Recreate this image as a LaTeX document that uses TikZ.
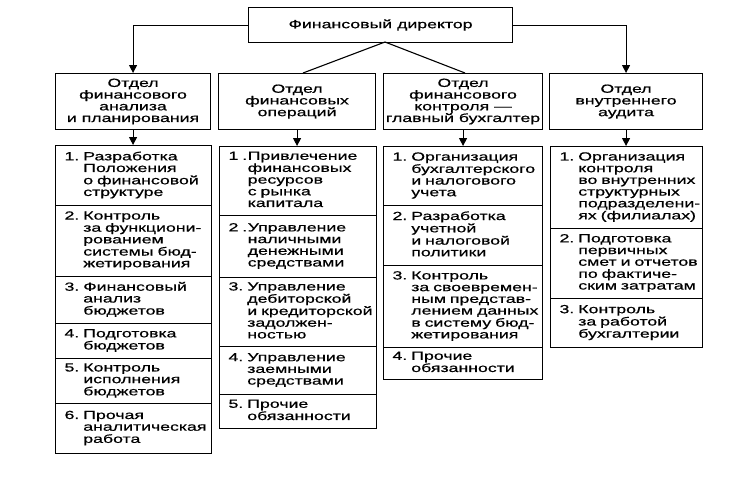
\documentclass[tikz,border=0pt]{standalone}
\usepackage{fontspec}
\setmainfont[FakeStretch=1.5,FakeBold=0.6]{Liberation Sans}
\usetikzlibrary{arrows.meta}
\newcommand{\itm}[2]{\begin{tabular}[t]{@{}l@{\hspace{4pt}}l@{}}#1&\begin{tabular}[t]{@{}l@{}}#2\end{tabular}\end{tabular}}
\newcommand{\itmb}[2]{\begin{tabular}[t]{@{}l@{\hspace{0.5pt}}l@{}}#1&\begin{tabular}[t]{@{}l@{}}#2\end{tabular}\end{tabular}}
\tikzset{
  box/.style={draw, line width=1.1pt, anchor=north west, align=center, inner sep=2pt,
    font=\fontsize{11.8}{11.7}\selectfont},
  cell/.style={draw, line width=1.1pt, anchor=north west, align=left, inner xsep=9pt, inner ysep=2pt,
    font=\fontsize{11.8}{11.7}\selectfont},
  conn/.style={line width=1.1pt},
  arr/.style={line width=1.1pt, -{Triangle[length=8pt,width=8pt]}}
}
\begin{document}
\begin{tikzpicture}[x=1pt,y=-1pt]
\useasboundingbox (0,0) rectangle (749,493);
\fill[white] (0,0) rectangle (749,493);
% top
\node[box, minimum width=264pt, minimum height=35pt] (top) at (248,7) {Финансовый директор};
\coordinate (fork) at (385,42);
% departments
\node[box, minimum width=155pt, minimum height=56pt] (d1) at (55,73) {Отдел\\финансового\\анализа\\и планирования};
\node[box, minimum width=157pt, minimum height=56pt] (d2) at (218,73) {Отдел\\финансовых\\операций};
\node[box, minimum width=159pt, minimum height=56pt] (d3) at (383,73) {Отдел\\финансового\\контроля ---\\главный бухгалтер};
\node[box, minimum width=153pt, minimum height=56pt] (d4) at (549,73) {Отдел\\внутреннего\\аудита};
\coordinate (t2) at (303,73);
\coordinate (t3) at (465,73);
% column 1
\tikzset{c1/.style={cell, text width=138pt}}
\node[c1, minimum height=60pt] (a1) at (55,145) {\itm{1.}{Разработка\\Положения\\о финансовой\\структуре}};
\node[c1, minimum height=71pt] (a2) at (55,205) {\itm{2.}{Контроль\\за функциони-\\рованием\\системы бюд-\\жетирования}};
\node[c1, minimum height=47pt] (a3) at (55,276) {\itm{3.}{Финансовый\\анализ\\бюджетов}};
\node[c1, minimum height=35pt] (a4) at (55,323) {\itm{4.}{Подготовка\\бюджетов}};
\node[c1, minimum height=45pt] (a5) at (55,358) {\itm{5.}{Контроль\\исполнения\\бюджетов}};
\node[c1, minimum height=50pt] (a6) at (55,403) {\itm{6.}{Прочая\\аналитическая\\работа}};
% column 2
\tikzset{c2/.style={cell, text width=139pt}}
\node[c2, minimum height=69pt] (b1) at (219,146) {\itmb{1 .}{Привлечение\\финансовых\\ресурсов\\с рынка\\капитала}};
\node[c2, minimum height=62pt] (b2) at (219,215) {\itmb{2 .}{Управление\\наличными\\денежными\\средствами}};
\node[c2, minimum height=69pt] (b3) at (219,277) {\itm{3.}{Управление\\дебиторской\\и кредиторской\\задолжен-\\ностью}};
\node[c2, minimum height=48pt] (b4) at (219,346) {\itm{4.}{Управление\\заемными\\средствами}};
\node[c2, minimum height=34pt] (b5) at (219,394) {\itm{5.}{Прочие\\обязанности}};
% column 3
\tikzset{c3/.style={cell, text width=141pt}}
\node[c3, minimum height=59pt] (e1) at (383,146) {\itm{1.}{Организация\\бухгалтерского\\и налогового\\учета}};
\node[c3, minimum height=60pt] (e2) at (383,205) {\itm{2.}{Разработка\\учетной\\и налоговой\\политики}};
\node[c3, minimum height=82pt] (e3) at (383,265) {\itm{3.}{Контроль\\за своевремен-\\ным представ-\\лением данных\\в систему бюд-\\жетирования}};
\node[c3, minimum height=32pt] (e4) at (383,347) {\itm{4.}{Прочие\\обязанности}};
% column 4
\tikzset{c4/.style={cell, text width=134pt}}
\node[c4, minimum height=82pt] (f1) at (550,146) {\itm{1.}{Организация\\контроля\\во внутренних\\структурных\\подразделени-\\ях (филиалах)}};
\node[c4, minimum height=70pt] (f2) at (550,228) {\itm{2.}{Подготовка\\первичных\\смет и отчетов\\по фактиче-\\ским затратам}};
\node[c4, minimum height=49pt] (f3) at (550,298) {\itm{3.}{Контроль\\за работой\\бухгалтерии}};
% connectors
\draw[arr] (top.west) -| (d1.north);
\draw[arr] (top.east) -| (d4.north);
\draw[conn] (fork) -- (t2);
\draw[conn] (fork) -- (t3);
\draw[arr] (d1.south) -- (d1.south |- a1.north);
\draw[arr] (d2.south) -- (d2.south |- b1.north);
\draw[arr] (d3.south) -- (d3.south |- e1.north);
\draw[arr] (d4.south) -- (d4.south |- f1.north);
\end{tikzpicture}
\end{document}
